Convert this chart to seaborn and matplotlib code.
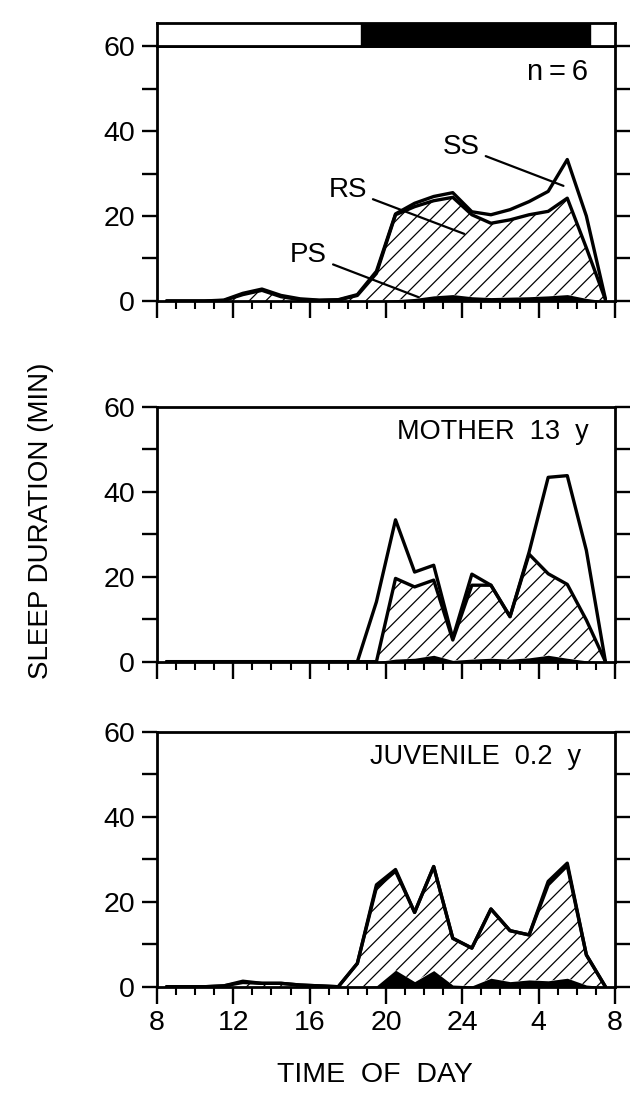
import matplotlib
matplotlib.use("Agg")
import numpy as np
import matplotlib.pyplot as plt
import seaborn as sns

# hourly bins (mid-points), 8:00 -> 8:00 next day
hours = [8.5, 9.5, 10.5, 11.5, 12.5, 13.5, 14.5, 15.5, 16.5, 17.5, 18.5, 19.5,
         20.5, 21.5, 22.5, 23.5, 24.5, 25.5, 26.5, 27.5, 28.5, 29.5, 30.5, 31.5]

# group mean, n=6 (minutes per hour)
group_ps = [0, 0, 0, 0, 0, 0, 0, 0, 0, 0, 0, 0.1, 0.3, 0.6, 1.2, 1.5, 1.0, 0.8, 0.9, 1.0, 1.2, 1.5, 0.6, 0]
group_rs = [0, 0, 0, 0.1, 1.5, 2.5, 1.0, 0.3, 0.1, 0.2, 1.3, 6.4, 20.0, 21.6, 22.4, 22.9, 19.3, 17.5, 18.2, 19.3, 19.9, 22.7, 11.9, 0.3]
group_ss = [0, 0, 0, 0.1, 0.3, 0.3, 0.3, 0.2, 0.1, 0.1, 0.2, 0.5, 0.2, 0.8, 1.0, 1.1, 0.7, 2.0, 2.4, 3.1, 4.7, 9.1, 7.5, 0.2]

# mother 13 y
mother_ps = [0, 0, 0, 0, 0, 0, 0, 0, 0, 0, 0, 0, 0.6, 0.8, 1.5, 0.3, 0.6, 0.8, 0.6, 0.9, 1.5, 0.8, 0.2, 0]
mother_rs = [0, 0, 0, 0, 0, 0, 0, 0, 0, 0, 0, 0, 19.0, 16.8, 17.7, 4.8, 17.4, 17.2, 10.0, 24.4, 19.2, 17.4, 9.6, 0]
mother_ss = [0, 0, 0, 0, 0, 0, 0, 0, 0, 0, 0, 14.1, 13.8, 3.5, 3.5, 0.4, 2.6, 0, 0, 0.5, 22.7, 25.6, 16.4, 0]

# juvenile 0.2 y
juv_ps = [0, 0, 0, 0, 0, 0, 0, 0, 0, 0, 0, 0.2, 3.9, 1.2, 3.8, 0.4, 0.2, 2.0, 1.2, 1.6, 1.4, 2.0, 0.4, 0]
juv_rs = [0, 0, 0, 0.2, 1.0, 0.8, 0.8, 0.4, 0.2, 0, 5.5, 23.2, 23.3, 16.3, 24.5, 11.0, 8.9, 16.3, 12.0, 10.6, 22.6, 26.5, 7.1, 0]
juv_ss = [0, 0, 0, 0, 0.3, 0, 0, 0, 0, 0, 0, 0.6, 0.4, 0, 0, 0, 0, 0, 0, 0, 0.8, 0.6, 0, 0]

panel_titles = ["n\u2009=\u20096", "MOTHER  13  y", "JUVENILE  0.2  y"]
title_right = [30.6, 30.6, 30.2]

xticks = [8, 12, 16, 20, 24, 28, 32]
xtick_labels = ["8", "12", "16", "20", "24", "4", "8"]
yticks = [0, 10, 20, 30, 40, 50, 60]
ytick_labels = ["0", "", "20", "", "40", "", "60"]

lights_off = 18.7
lights_on = 30.7

sns.set_theme(style="ticks")
plt.rcParams["font.family"] = ["Liberation Sans", "DejaVu Sans"]
plt.rcParams["text.color"] = "black"
plt.rcParams["axes.labelcolor"] = "black"
plt.rcParams["xtick.color"] = "black"
plt.rcParams["ytick.color"] = "black"
plt.rcParams["hatch.linewidth"] = 0.9
plt.rcParams["hatch.color"] = "black"

fig = plt.figure(figsize=(6.4, 10.96), dpi=100)
fig.patch.set_facecolor("white")

left, width, height = 0.2453, 0.7156, 0.2325
bottoms = [0.7254, 0.3963, 0.0997]
data = [(group_ps, group_rs, group_ss),
        (mother_ps, mother_rs, mother_ss),
        (juv_ps, juv_rs, juv_ss)]

axes = []
for i, (ps, rs, ss) in enumerate(data):
    ax = fig.add_axes([left, bottoms[i], width, height])
    axes.append(ax)
    ps = np.array(ps)
    rs_top = ps + np.array(rs)
    total = rs_top + np.array(ss)

    ax.fill_between(hours, 0, total, color="white", lw=0)
    ax.fill_between(hours, ps, rs_top, facecolor="white", edgecolor="black",
                    hatch="//", lw=0)
    ax.fill_between(hours, 0, ps, color="black", lw=0)
    sns.lineplot(x=hours, y=rs_top, ax=ax, color="black", lw=2.4)
    sns.lineplot(x=hours, y=total, ax=ax, color="black", lw=2.4)

    ax.set_xlim(8, 32)
    ax.set_ylim(0, 60)
    ax.set_facecolor("white")
    for s in ax.spines.values():
        s.set_visible(True)
        s.set_linewidth(2.0)
        s.set_color("black")

    ax.set_yticks(yticks)
    ax.set_yticklabels(ytick_labels, fontsize=20.5)
    ax.tick_params(axis="y", which="major", direction="out", length=11, width=1.7,
                   left=True, right=True, labelright=False, pad=5)
    ax.set_xticks(xticks)
    ax.set_xticks(range(8, 33), minor=True)
    ax.tick_params(axis="x", which="major", direction="out", length=12, width=1.7,
                   bottom=True, top=False, pad=5)
    ax.tick_params(axis="x", which="minor", direction="out", length=6, width=1.5,
                   bottom=True, top=False)
    if i == 2:
        ax.set_xticklabels(xtick_labels, fontsize=20.5)
    else:
        ax.set_xticklabels([])

    ax.text(title_right[i], 54, panel_titles[i], ha="right", va="center",
            fontsize=19.5 if i else 21)

# labels with leader lines on the group panel
ax = axes[0]
line_kw = dict(arrowstyle="-", color="black", lw=1.6, shrinkA=2, shrinkB=0)
ax.annotate("SS", xy=(29.3, 27.1), xytext=(23.95, 36.3), ha="center", va="center",
            fontsize=20, arrowprops=line_kw)
ax.annotate("RS", xy=(24.1, 15.8), xytext=(18.0, 26.2), ha="center", va="center",
            fontsize=20, arrowprops=line_kw)
ax.annotate("PS", xy=(21.7, 0.9), xytext=(15.95, 10.8), ha="center", va="center",
            fontsize=20, arrowprops=line_kw)

# light / dark bar
ax_bar = fig.add_axes([left, bottoms[0] + height, width, 0.021])
ax_bar.set_xlim(8, 32)
ax_bar.set_ylim(0, 1)
ax_bar.axvspan(lights_off, lights_on, color="black")
ax_bar.set_xticks([])
ax_bar.set_yticks([])
for s in ax_bar.spines.values():
    s.set_visible(True)
    s.set_linewidth(2.0)
    s.set_color("black")

fig.text(0.064, 0.525, "SLEEP DURATION (MIN)", rotation=90, ha="center", va="center",
         fontsize=20)
fig.text(0.586, 0.019, "TIME  OF  DAY", ha="center", va="center", fontsize=20.5)

fig.savefig("out.png", dpi=100, facecolor="white")
